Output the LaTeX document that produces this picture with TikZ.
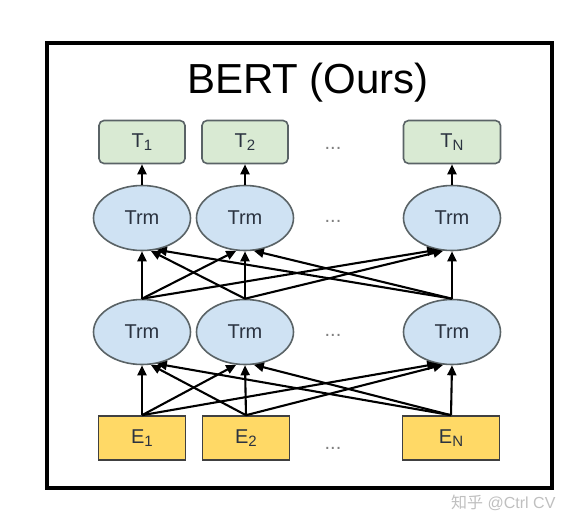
\documentclass[tikz,border=0pt]{standalone}
\usepackage{fontspec}
\setmainfont{Liberation Sans}
\newfontfamily\cjkfont{Noto Sans CJK SC}
\usetikzlibrary{shapes.geometric,arrows.meta}
\definecolor{outgreen}{HTML}{D9EAD3}
\definecolor{trmblue}{HTML}{CFE2F3}
\definecolor{embyellow}{HTML}{FFD966}
\definecolor{edgegray}{HTML}{5A6366}
\definecolor{inkgray}{HTML}{2B3340}
\newcommand{\lowsub}[1]{\raisebox{-3pt}{\fontsize{15}{15}\selectfont #1}}
\tikzstyle{every node}=[font=\fontsize{20}{24}\selectfont,text=inkgray]
\tikzstyle{output}=[draw=edgegray,fill=outgreen,line width=1.6pt,rounded corners=5pt,minimum width=86pt,minimum height=43pt]
\tikzstyle{trm}=[ellipse,draw=edgegray,fill=trmblue,line width=1.6pt,minimum width=97pt,minimum height=65pt]
\tikzstyle{embed}=[draw=black!75,fill=embyellow,line width=1.6pt,minimum width=87pt,minimum height=44pt]
\tikzstyle{dots}=[inner sep=0pt,text=gray]
\tikzstyle{link}=[line width=2.1pt,-{Triangle[length=10pt,width=9pt]}]

\begin{document}
\begin{tikzpicture}[x=1pt,y=-1pt]
  \useasboundingbox (0,0) rectangle (574,528);
  \draw[line width=3.5pt] (47,43) rectangle (552,488);
  \node[anchor=base,font=\fontsize{42}{48}\selectfont,text=black] (title) at (308,93) {BERT (Ours)};

  % outputs
  \node[output] (t1) at (142,142) {T\lowsub{1}};
  \node[output] (t2) at (245,142) {T\lowsub{2}};
  \node[output,minimum width=97pt] (tN) at (452,142) {T\lowsub{N}};
  \node[dots] (tdots) at (333,148) {...};

  % transformer layers
  \foreach \c/\x in {1/142,2/245,N/452}{
    \node[trm] (up\c) at (\x,218) {Trm};
    \node[trm] (low\c) at (\x,332) {Trm};
  }
  \node[dots] (updots) at (333,221) {...};
  \node[dots] (lowdots) at (333,335) {...};

  % embeddings
  \node[embed] (e1) at (142,438) {E\lowsub{1}};
  \node[embed] (e2) at (246,438) {E\lowsub{2}};
  \node[embed,minimum width=97pt] (eN) at (451,438) {E\lowsub{N}};
  \node[dots] (edots) at (333,448) {...};

  \foreach \s/\t/\a in {1/1/-90,2/1/-75,N/1/-65,1/2/-105,2/2/-90,N/2/-75,1/N/-115,2/N/-105,N/N/-90}{
    \draw[link] (e\s.north) -- (low\t.\a);
    \draw[link] (low\s.north) -- (up\t.\a);
  }
  \foreach \c in {1,2,N}
    \draw[link] (up\c.north) -- (t\c.south);

  \node[anchor=base east,font=\fontsize{16}{18}\selectfont,text=black!25] (mark) at (559,508) {{\cjkfont 知乎} @Ctrl CV};
\end{tikzpicture}
\end{document}
